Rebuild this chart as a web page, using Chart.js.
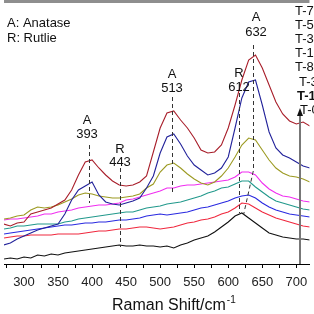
<!DOCTYPE html>
<html>
<head>
<meta charset="utf-8">
<script src="https://cdn.jsdelivr.net/npm/chart.js@4.4.1/dist/chart.umd.min.js"></script>
<style>
  html, body { margin: 0; padding: 0; background: #fff; }
  #wrap { width: 314px; height: 314px; }
</style>
</head>
<body>
<div id="wrap"><canvas id="chart" width="314" height="314"></canvas></div>
<script>
// Raman shift (cm-1) sample points
const shifts = [270, 280, 290, 300, 310, 320, 330, 340, 350, 360, 370, 380, 390, 400, 410, 420,
  430, 440, 450, 460, 470, 480, 490, 500, 510, 520, 530, 540, 550, 560, 570, 580, 590, 600,
  610, 620, 630, 640, 650, 660, 670, 680, 690, 700, 710, 720];

// intensities (arb. units, offset stacked), top curve first
const darkRed = [40, 38, 41, 42, 50, 52, 54, 56, 60, 64, 74, 89, 102, 104, 96, 89, 83, 79, 78, 79, 82, 88,
  112, 136, 151, 153, 144, 136, 126, 114, 111, 112, 119, 136, 159, 184, 204, 209, 196, 179, 162, 150, 143, 140, 142, 138];
const navy = [19, 21, 25, 28, 31, 34, 36, 38, 40, 50, 64, 74, 78, 82, 69, 62, 60, 59, 61, 63, 66, 76,
  88, 111, 127, 130, 120, 108, 99, 94, 89, 91, 96, 107, 136, 166, 182, 184, 159, 132, 116, 109, 106, 102, 98, 96];
const olive = [45, 46, 48, 49, 54, 57, 56, 57, 59, 62, 65, 69, 71, 70, 68, 67, 66, 66, 67, 68, 70, 76,
  80, 92, 99, 101, 96, 90, 85, 81, 79, 82, 88, 96, 107, 119, 126, 124, 114, 104, 96, 91, 88, 87, 85, 82];
const magenta = [44, 45, 45, 46, 47, 48, 50, 50, 52, 53, 54, 56, 57, 58, 59, 59, 60, 61, 64, 65, 67, 69,
  71, 73, 76, 76, 78, 79, 79, 80, 81, 82, 83, 84, 87, 92, 92, 89, 81, 75, 71, 68, 67, 65, 63, 62];
const teal = [35, 36, 38, 38, 39, 40, 40, 40, 40, 42, 43, 45, 46, 47, 48, 49, 50, 51, 52, 52, 54, 56,
  57, 58, 60, 61, 62, 64, 66, 68, 71, 73, 76, 77, 80, 83, 83, 77, 72, 67, 63, 61, 59, 57, 55, 54];
const blue = [30, 31, 32, 33, 34, 35, 36, 37, 38, 39, 39, 40, 41, 41, 42, 42, 43, 44, 44, 45, 46, 48,
  49, 50, 49, 50, 51, 52, 54, 56, 57, 59, 61, 63, 66, 68, 69, 66, 61, 57, 54, 52, 50, 49, 48, 47];
const red = [26, 27, 28, 28, 29, 29, 29, 29, 30, 30, 30, 30, 31, 32, 33, 33, 34, 35, 35, 36, 37, 37,
  36, 35, 36, 37, 39, 41, 42, 44, 45, 47, 50, 52, 56, 61, 60, 56, 52, 49, 46, 44, 42, 40, 38, 37];
const black = [5, 6, 5, 7, 6, 9, 8, 10, 9, 11, 12, 13, 14, 15, 16, 17, 18, 19, 18, 18, 19, 18,
  18, 17, 18, 16, 19, 21, 24, 26, 28, 32, 37, 42, 48, 51, 46, 41, 36, 31, 29, 27, 26, 25, 25, 24];

const sampleLabels = ['T-7', 'T-5', 'T-3', 'T-1', 'T-8', 'T-3', 'T-1', 'T-0'];
const peakPhase = ['A', 'R', 'A', 'R', 'A'];
const peakNumbers = ['393', '443', '513', '612', '632'];

const FONT = '"Liberation Sans", Arial, sans-serif';

const series = [darkRed, navy, olive, magenta, teal, blue, red, black];
const colors = ['#a81e2a', '#22229a', '#9c9a22', '#f02ef0', '#22998c', '#2a2ae0', '#f0283e', '#111111'];

const datasets = series.map((vals, i) => ({
  label: sampleLabels[i],
  data: shifts.map((s, j) => ({ x: s, y: vals[j] })),
  borderColor: colors[i],
  borderWidth: 1.1,
  pointRadius: 0,
  tension: 0,
  fill: false
}));

// dashed guide lines, as [shift, intensity] points
const guides = [
  [[395, 119], [395, 61]],
  [[441, 96], [441, 17]],
  [[518, 167], [518, 72]],
  [[616, 171], [616, 51]],
  [[636, 219], [636, 94], [621, 49]]
];
// where the peak captions sit (pixel centre x, baselines)
const captionPos = [[87, 124, 138], [120, 153, 166], [172, 78, 92], [239, 77, 91], [256, 21, 36]];

const overlay = {
  id: 'overlay',
  afterDraw(chart) {
    const { ctx, chartArea, scales: { x, y } } = chart;
    ctx.save();

    // grey top frame
    ctx.fillStyle = '#8e8e8e';
    ctx.fillRect(chartArea.left, chartArea.top, chartArea.width, 3);

    // dashed guides
    ctx.strokeStyle = '#333';
    ctx.lineWidth = 1;
    ctx.setLineDash([4, 3]);
    guides.forEach(g => {
      ctx.beginPath();
      g.forEach(([s, v], i) => {
        const px = Math.round(x.getPixelForValue(s)) + 0.5;
        const py = y.getPixelForValue(v);
        if (i === 0) ctx.moveTo(px, py); else ctx.lineTo(px, py);
      });
      ctx.stroke();
    });
    ctx.setLineDash([]);

    // arrow
    const ax = Math.round(x.getPixelForValue(706));
    const aTop = y.getPixelForValue(153);
    ctx.strokeStyle = '#777';
    ctx.lineWidth = 2;
    ctx.beginPath();
    ctx.moveTo(ax, y.getPixelForValue(0));
    ctx.lineTo(ax, aTop + 4);
    ctx.stroke();
    ctx.fillStyle = '#111';
    ctx.beginPath();
    ctx.moveTo(ax, aTop - 3);
    ctx.lineTo(ax - 3, aTop + 5);
    ctx.lineTo(ax + 3, aTop + 5);
    ctx.closePath();
    ctx.fill();

    // phase legend
    ctx.fillStyle = '#111';
    ctx.font = '13px ' + FONT;
    ctx.textAlign = 'left';
    ctx.textBaseline = 'alphabetic';
    ctx.fillText('A: Anatase', 7, 27);
    ctx.fillText('R: Rutlie', 7, 42);

    // peak captions
    ctx.textAlign = 'center';
    captionPos.forEach(([cx, b1, b2], i) => {
      ctx.fillText(peakPhase[i], cx, b1);
      ctx.fillText(peakNumbers[i], cx, b2);
    });

    // sample labels on the right (cut by the edge)
    ctx.textAlign = 'left';
    const labX = [295, 295, 295, 295, 295, 299, 297, 300];
    sampleLabels.forEach((t, i) => {
      ctx.font = (i === 6 ? 'bold ' : '') + '13px ' + FONT;
      ctx.fillText(t, labX[i], 15 + i * 14.1);
    });

    // axis title with superscript
    ctx.font = '16px ' + FONT;
    const main = 'Raman Shift/cm';
    ctx.fillText(main, 112, 310);
    const w = ctx.measureText(main).width;
    ctx.font = '10px ' + FONT;
    ctx.fillText('-1', 112 + w + 1, 303);

    ctx.restore();
  }
};

new Chart(document.getElementById('chart'), {
  type: 'line',
  data: { datasets },
  options: {
    responsive: false,
    animation: false,
    layout: { padding: 0 },
    plugins: { legend: { display: false }, tooltip: { enabled: false } },
    scales: {
      x: {
        type: 'linear',
        min: 270.7,
        max: 719.3,
        afterFit: s => { s.height = 50; },
        border: { display: true, color: '#000', width: 1 },
        grid: { drawOnChartArea: false, drawTicks: true, tickLength: 4, color: '#000' },
        ticks: {
          stepSize: 25,
          includeBounds: false,
          autoSkip: false,
          maxRotation: 0,
          padding: 7,
          color: '#222',
          font: { family: FONT, size: 13 },
          callback: v => (v % 50 === 0 ? String(v) : '')
        }
      },
      y: { display: false, min: 0, max: 264 }
    }
  },
  plugins: [overlay]
});
</script>
</body>
</html>
